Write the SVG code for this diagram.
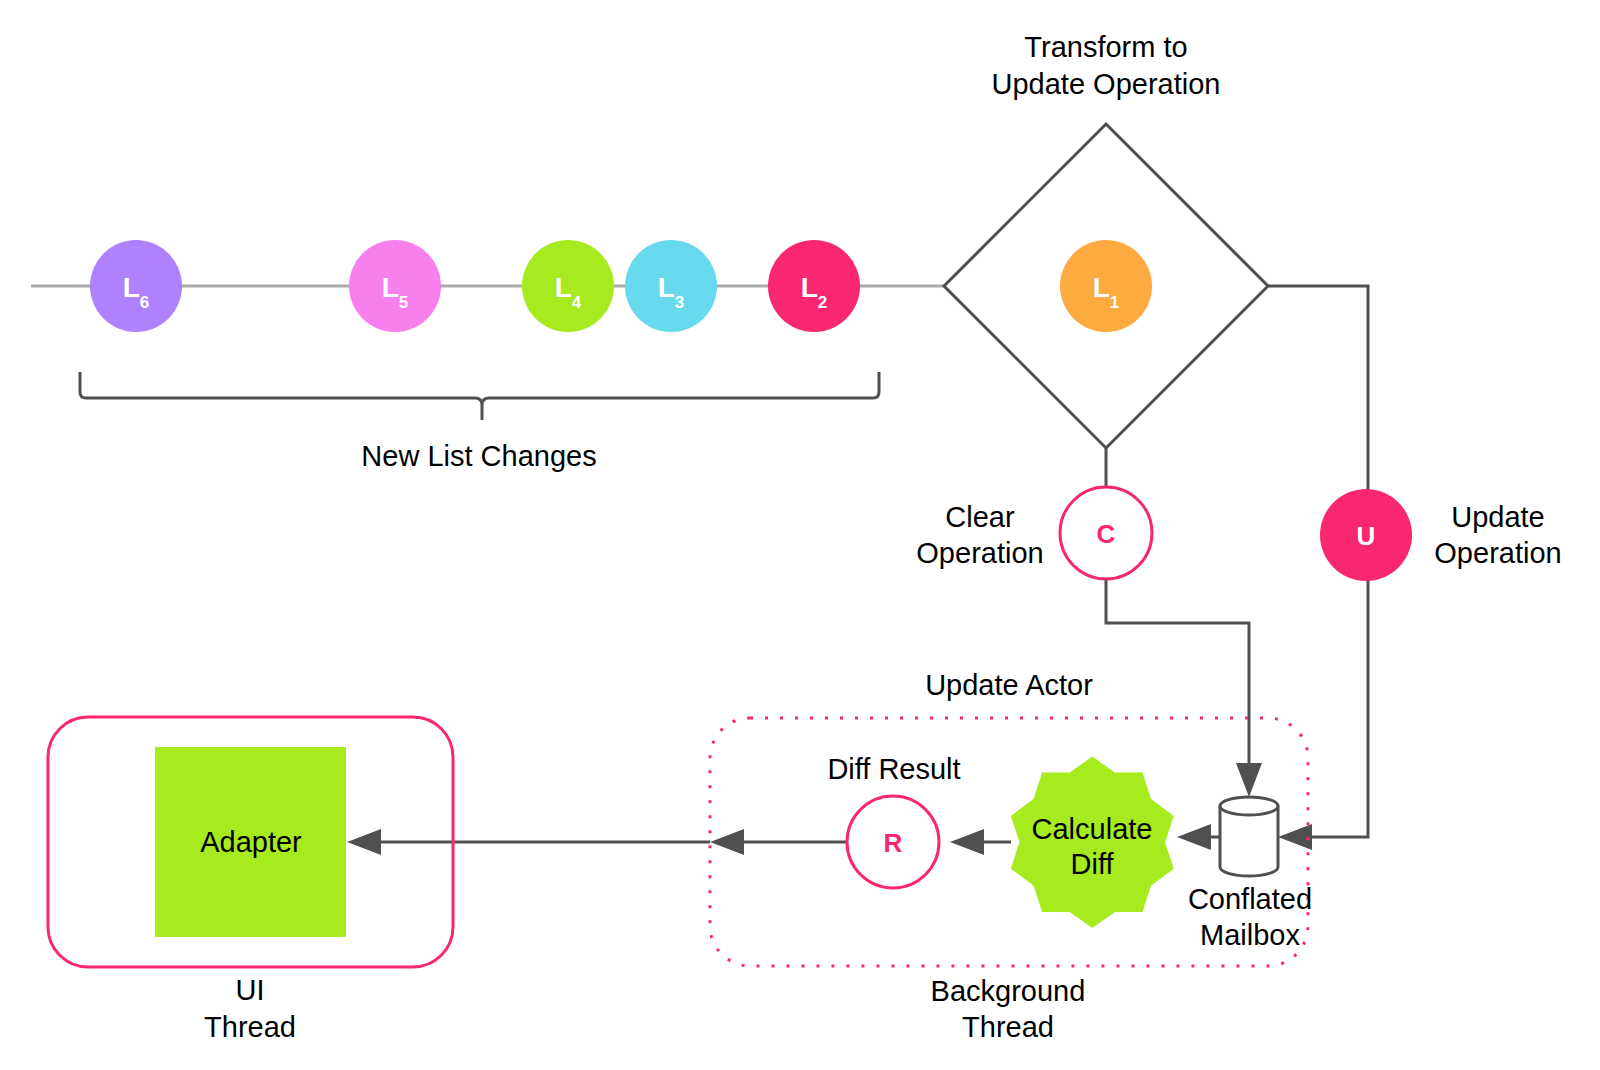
<svg xmlns="http://www.w3.org/2000/svg" width="1600" height="1070" viewBox="0 0 1600 1070">
<style>
text{font-family:"Liberation Sans",Arial,sans-serif;fill:#000;}
.lbl{font-size:29px;text-anchor:middle;}
.ltr{font-size:28px;font-weight:bold;fill:#fff;text-anchor:middle;}
.sub{font-size:17px;font-weight:bold;fill:#fff;}
.op{font-size:26px;font-weight:bold;text-anchor:middle;}
.conn{fill:none;stroke:#505050;stroke-width:3;}
</style>
<defs>
<marker id="arr" viewBox="0 0 34 26" refX="0" refY="13" markerWidth="34" markerHeight="26" markerUnits="userSpaceOnUse" orient="auto">
<path d="M0,0 L34,13 L0,26 Z" fill="#505050"/>
</marker>
</defs>
<rect width="1600" height="1070" fill="#fff"/>

<g id="connectors">
<line x1="31" y1="286" x2="944" y2="286" stroke="#ababab" stroke-width="3"/>
<path class="conn" d="M1268,286 H1368 V837 H1312" marker-end="url(#arr)"/>
<path class="conn" d="M1106,448 V487"/>
<path class="conn" d="M1106,580 V623 H1249 V763" marker-end="url(#arr)"/>
<path class="conn" d="M1220,837 H1211" marker-end="url(#arr)"/>
<path class="conn" d="M1011,842 H984" marker-end="url(#arr)"/>
<path class="conn" d="M846,842 H744" marker-end="url(#arr)"/>
<path class="conn" d="M710,842 H381" marker-end="url(#arr)"/>
</g>

<g id="brace">
<path class="conn" d="M80,372 V392 Q80,398 86,398 H475 Q482,398 482,405 V420 M482,405 Q482,398 489,398 H873 Q879,398 879,392 V372"/>
<text class="lbl" x="479" y="466">New List Changes</text>
</g>

<g id="L6"><circle cx="136" cy="286" r="46" fill="#AE81FF"/><text class="ltr" x="136" y="297">L<tspan class="sub" dy="11">6</tspan></text></g>
<g id="L5"><circle cx="395" cy="286" r="46" fill="#F880EE"/><text class="ltr" x="395" y="297">L<tspan class="sub" dy="11">5</tspan></text></g>
<g id="L4"><circle cx="568" cy="286" r="46" fill="#A6EA1F"/><text class="ltr" x="568" y="297">L<tspan class="sub" dy="11">4</tspan></text></g>
<g id="L3"><circle cx="671" cy="286" r="46" fill="#66D9EC"/><text class="ltr" x="671" y="297">L<tspan class="sub" dy="11">3</tspan></text></g>
<g id="L2"><circle cx="814" cy="286" r="46" fill="#F92672"/><text class="ltr" x="814" y="297">L<tspan class="sub" dy="11">2</tspan></text></g>

<g id="transform">
<polygon points="1106,124 1268,286 1106,448 944,286" fill="#fff" stroke="#4d4d4d" stroke-width="3"/>
<text class="lbl" x="1106" y="57">Transform to</text>
<text class="lbl" x="1106" y="94">Update Operation</text>
</g>
<g id="L1"><circle cx="1106" cy="286" r="46" fill="#FDAA40"/><text class="ltr" x="1106" y="297">L<tspan class="sub" dy="11">1</tspan></text></g>

<g id="clear">
<circle cx="1106" cy="533" r="46" fill="#fff" stroke="#F92672" stroke-width="3"/>
<text class="op" x="1106" y="543" style="fill:#F92672">C</text>
<text class="lbl" x="980" y="527">Clear</text>
<text class="lbl" x="980" y="563">Operation</text>
</g>

<g id="update">
<circle cx="1366" cy="535" r="46" fill="#F92672"/>
<text class="op" x="1366" y="545" style="fill:#fff">U</text>
<text class="lbl" x="1498" y="527">Update</text>
<text class="lbl" x="1498" y="563">Operation</text>
</g>

<g id="actor">
<rect x="710" y="718" width="598" height="248" rx="40" fill="none" stroke="#F92672" stroke-width="3" stroke-dasharray="3 12"/>
<text class="lbl" x="1009" y="695">Update Actor</text>
<text class="lbl" x="1008" y="1001">Background</text>
<text class="lbl" x="1008" y="1037">Thread</text>
</g>

<g id="mailbox">
<path d="M1220,806 A29,9 0 0 1 1278,806 V867 A29,9 0 0 1 1220,867 Z" fill="#fff" stroke="#505050" stroke-width="3"/>
<path d="M1220,806 A29,9 0 0 0 1278,806" fill="none" stroke="#505050" stroke-width="3"/>
<text class="lbl" x="1250" y="909">Conflated</text>
<text class="lbl" x="1250" y="945">Mailbox</text>
</g>

<g id="calc">
<polygon fill="#A6EB1E" points="1092.3,756.6 1114.9,772.6 1142.5,772.6 1150.9,798.8 1173.8,815.9 1165.1,842.3 1173.8,868.7 1150.9,885.8 1142.5,912.0 1114.9,912.0 1092.3,928.0 1069.7,912.0 1042.1,912.0 1033.7,885.8 1010.8,868.7 1019.5,842.3 1010.8,815.9 1033.7,798.8 1042.1,772.6 1069.7,772.6"/>
<text class="lbl" x="1092" y="839">Calculate</text>
<text class="lbl" x="1092" y="874">Diff</text>
</g>

<g id="result">
<circle cx="893" cy="842" r="46" fill="#fff" stroke="#F92672" stroke-width="3"/>
<text class="op" x="893" y="852" style="fill:#F92672">R</text>
<text class="lbl" x="894" y="779">Diff Result</text>
</g>

<g id="ui">
<rect x="48" y="717" width="405" height="250" rx="40" fill="none" stroke="#F92672" stroke-width="3"/>
<text class="lbl" x="250" y="1000">UI</text>
<text class="lbl" x="250" y="1037">Thread</text>
</g>
<g id="adapter">
<rect x="155" y="747" width="191" height="190" fill="#A6EB1E"/>
<text class="lbl" x="251" y="852">Adapter</text>
</g>
</svg>
